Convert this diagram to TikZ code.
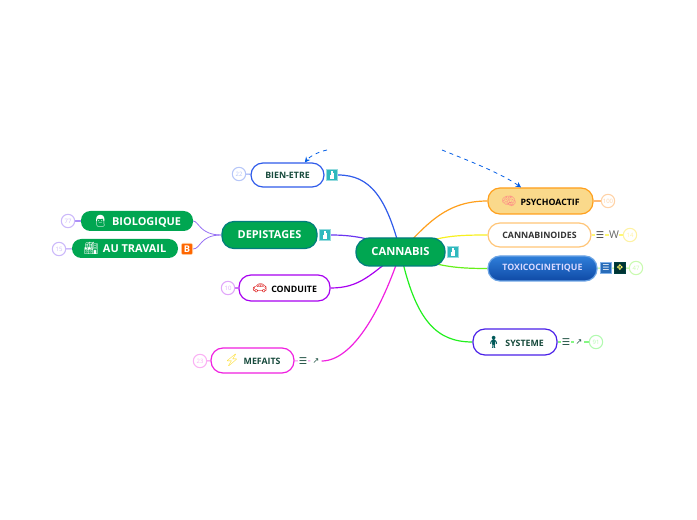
\documentclass[tikz,border=0pt]{standalone}
\usepackage{fontspec}
\setmainfont{Open Sans}
\newfontfamily\emojifont{Noto Emoji}
\newfontfamily\symbfont{DejaVu Sans}
\usetikzlibrary{backgrounds,arrows.meta}

\definecolor{mapgreen}{HTML}{00A651}
\definecolor{mapteal}{HTML}{2FB9BE}
\definecolor{mapink}{HTML}{174A3C}
\definecolor{mapblue}{HTML}{2F5BEA}
\definecolor{mapviolet}{HTML}{6A35F0}
\definecolor{mappurple}{HTML}{A800F0}
\definecolor{mappink}{HTML}{F020E0}
\definecolor{maporange}{HTML}{FF9F1C}
\definecolor{mapyellow}{HTML}{F7F020}
\definecolor{maplime}{HTML}{66F01A}
\definecolor{mapgreenline}{HTML}{22F01E}
\definecolor{mapindigo}{HTML}{4A20E8}
\definecolor{mapsand}{HTML}{FAD98B}
\definecolor{maptoxtop}{HTML}{2F7FDA}
\definecolor{maptoxbot}{HTML}{0F4AA6}

\newcommand{\pxfont}[1]{\fontsize{#1}{#1}\selectfont\bfseries}
\newcommand{\emo}[2]{{\emojifont\fontsize{9}{9}\selectfont\textcolor{#1}{#2}}\hspace{3pt}}
\newcommand{\barsicon}{\rule{0.9pt}{2.5pt}\hspace{0.5pt}\rule{0.9pt}{5.5pt}\hspace{0.5pt}\rule{0.9pt}{4pt}}

\tikzset{
    topic/.style={rectangle, rounded corners=9pt, minimum height=#1*0.75pt, inner sep=0pt, line width=0.9pt, anchor=center},
    filled/.style={draw=#1!75!blue, fill=#1, text=white},
    outlined/.style={draw=#1, fill=white, text=mapink},
    badge/.style={circle, draw=#1!35, line width=0.8pt, minimum size=10pt, inner sep=0pt, text=#1!35, font=\fontsize{4.5}{5}\selectfont},
    stub/.style={draw=#1!55, line width=0.8pt},
    branch/.style={draw=#1, line width=0.9pt},
    noteicon/.style={rectangle, fill=mapteal, draw=mapteal!50, line width=0.5pt, minimum size=8.5pt, inner sep=0pt, text=white, font=\symbfont\fontsize{6}{6}\selectfont},
    plainicon/.style={rectangle, fill=white, minimum size=8pt, inner sep=0pt, text=mapink, font=\symbfont\fontsize{7}{7}\selectfont},
    linkarrow/.style={draw=blue!60!cyan!90!black, dashed, line width=0.6pt, -{Stealth[length=4pt,width=4pt]}}
}

\begin{document}
\begin{tikzpicture}[x=0.75pt,y=-0.75pt]
    \useasboundingbox (0,0) rectangle (697,520);

    % Central topic
    \node[topic=28, filled=mapgreen, rounded corners=10pt, minimum width=66.75pt, font=\pxfont{8.4}] (cannabis) at (400.5,252) {CANNABIS};
    \node[noteicon] (cannabisnote) at (453,252) {\barsicon};

    % Right hand side
    \node[topic=26, draw=maporange, fill=mapsand, text=black, minimum width=78.75pt, font=\pxfont{6.6}] (psychoactif) at (540.5,201) {\emo{pink!70!red}{🧠}PSYCHOACTIF};
    \node[topic=24, outlined=maporange!60, text=black!80, minimum width=77.25pt, font=\pxfont{6.6}] (cannabinoides) at (539.5,235) {CANNABINOIDES};
    \node[topic=25, draw=maptoxtop!70, top color=maptoxtop, bottom color=maptoxbot, text=white!85!blue, minimum width=81.75pt, font=\pxfont{6.6}] (toxico) at (542.5,268.5) {TOXICOCINETIQUE};
    \node[topic=26, outlined=mapindigo, minimum width=63pt, font=\pxfont{6.6}] (systeme) at (515,342) {\emo{teal!70!black}{🧍}SYSTEME};

    % Left hand side
    \node[topic=24, outlined=mapblue, minimum width=54.75pt, font=\pxfont{6.6}] (bienetre) at (287.5,175) {BIEN-ETRE};
    \node[topic=27, filled=mapgreen, minimum width=71.25pt, font=\pxfont{8.2}] (depistages) at (269.5,235) {DEPISTAGES};
    \node[topic=20, fill=mapgreen, text=white, rounded corners=7pt, minimum width=84pt, line width=0pt, font=\pxfont{8.2}] (biologique) at (137,221) {\emo{white}{👨}BIOLOGIQUE};
    \node[topic=19, fill=mapgreen, text=white, rounded corners=7pt, minimum width=79.5pt, line width=0pt, font=\pxfont{8.2}] (travail) at (125,248.5) {\emo{white}{🏭}AU TRAVAIL};
    \node[topic=26, draw=mappurple, fill=white, text=black, minimum width=68.25pt, font=\pxfont{6.6}] (conduite) at (284.5,288) {\emo{red!85!black}{🚗}CONDUITE};
    \node[topic=25, outlined=mappink, minimum width=62.25pt, font=\pxfont{6.6}] (mefaits) at (252.5,360.5) {\emo{yellow!75!orange}{⚡}MEFAITS};

    % Icons beside the topics
    \node[noteicon] (bienetrenote) at (332,175) {\barsicon};
    \node[noteicon] (depistagesnote) at (325,235) {\barsicon};
    \node[noteicon, fill=orange!80!red, draw=orange!30, rounded corners=1pt, font=\pxfont{7}] (travailblog) at (187,249) {B};
    \node[plainicon, text=black!75] (cannabinoidesnote) at (600,235) {☰};
    \node[plainicon, text=black!60, font=\fontsize{8}{8}\selectfont\rmfamily] (cannabinoideswiki) at (614,235) {W};
    \node[noteicon, fill=maptoxtop!85!black, draw=maptoxtop!60] (toxiconote) at (606,268) {☰};
    \node[noteicon, fill=black!60!teal, draw=black!50!teal, text=yellow!60] (toxicomap) at (620,268) {✥};
    \node[plainicon] (systemenote) at (566,342) {☰};
    \node[plainicon, font=\symbfont\fontsize{6}{6}\selectfont] (systemelink) at (579,342) {↗};
    \node[plainicon] (mefaitsnote) at (303,361) {☰};
    \node[plainicon, font=\symbfont\fontsize{6}{6}\selectfont] (mefaitslink) at (316,361) {↗};

    % Count badges
    \node[badge=orange] (psychoactifcount) at (608,201) {100};
    \node[badge=yellow!80!orange] (cannabinoidescount) at (630,235) {14};
    \node[badge=maplime] (toxicocount) at (636,268) {47};
    \node[badge=mapgreenline] (systemecount) at (596,342) {91};
    \node[badge=mapblue] (bienetrecount) at (239,174) {22};
    \node[badge=mapviolet] (biologiquecount) at (68,221) {77};
    \node[badge=mapviolet] (travailcount) at (59,249) {15};
    \node[badge=mappurple] (conduitecount) at (228,288) {10};
    \node[badge=mappink] (mefaitscount) at (200,361) {23};

    \begin{scope}[on background layer]
        % Main branches
        \draw[branch=mapblue] (cannabis.center) .. controls +(-14,-55) and +(32,0) .. (bienetrenote.east);
        \draw[branch=mapviolet] (cannabis.center) .. controls +(-25,-14) and +(20,0) .. (depistagesnote.east);
        \draw[branch=mappurple] (cannabis.center) .. controls +(-30,22) and +(30,0) .. (conduite.east);
        \draw[branch=mappink] (cannabis.center) .. controls +(-18,55) and +(32,0) .. (mefaitslink.east);
        \draw[branch=maporange] (cannabis.center) .. controls +(28,-30) and +(-40,0) .. (psychoactif.west);
        \draw[branch=mapyellow] (cannabis.center) .. controls +(35,-15) and +(-40,0) .. (cannabinoides.west);
        \draw[branch=maplime] (cannabis.center) .. controls +(35,14) and +(-35,0) .. (toxico.west);
        \draw[branch=mapgreenline] (cannabis.center) .. controls +(15,70) and +(-35,0) .. (systeme.west);

        % Sub branches
        \draw[branch=mapviolet!70, line width=0.6pt] (depistages.west) .. controls +(-22,0) and +(6,0) .. (biologique.east);
        \draw[branch=mapviolet!70, line width=0.6pt] (depistages.west) .. controls +(-22,0) and +(8,0) .. (travailblog.east);

        % Stubs to the badges
        \draw[stub=orange] (psychoactif) -- (psychoactifcount);
        \draw[stub=yellow] (cannabinoides) -- (cannabinoidescount);
        \draw[stub=maplime] (toxico) -- (toxicocount);
        \draw[stub=mapgreenline] (systeme) -- (systemecount);
        \draw[stub=mapblue] (bienetre) -- (bienetrecount);
        \draw[stub=mapviolet] (biologique) -- (biologiquecount);
        \draw[stub=mapviolet] (travail) -- (travailcount);
        \draw[stub=mappurple] (conduite) -- (conduitecount);
        \draw[stub=mappink] (mefaits) -- (mefaitscount);
        \draw[stub=mappink] (mefaits) -- (mefaitslink);
    \end{scope}

    % Relation arrows
    \coordinate (bienetrefree) at (327,150);
    \coordinate (psychoactiffree) at (442,150);
    \draw[linkarrow] (bienetrefree) .. controls +(-10,2) and +(4,-5) .. (bienetre.36);
    \draw[linkarrow] (psychoactiffree) .. controls +(30,12) and +(-20,-14) .. (psychoactif.145);
\end{tikzpicture}
\end{document}
